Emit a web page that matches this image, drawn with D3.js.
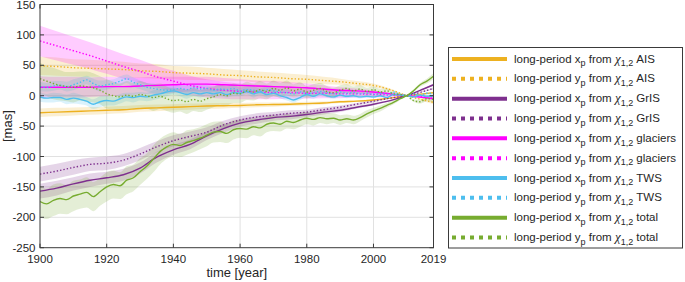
<!DOCTYPE html>
<meta charset="utf-8">
<style>
body { margin: 0; background: #fff; }
text { font-family: "Liberation Sans", Arial, sans-serif; fill: #262626; }
.grid line { stroke: #e1e1e1; stroke-width: 1; }
.frame { fill: none; stroke: #3a3a3a; stroke-width: 1; }
.tick-mark { stroke: #3a3a3a; stroke-width: 1; }
.band { stroke: none; fill-opacity: 0.2; }
.line { fill: none; stroke-width: 1.4; }
</style>
<svg width="685" height="282"></svg>
<script src="https://d3js.org/d3.v7.min.js"></script>
<script>
// grids: smooth series every 5 years, noisy series every 2 years
var yearsA = [1900, 1905, 1910, 1915, 1920, 1925, 1930, 1935, 1940, 1945, 1950, 1955,
  1960, 1965, 1970, 1975, 1980, 1985, 1990, 1995, 2000, 2005, 2010, 2015, 2018];
var yearsB = d3.range(1900, 2019, 2);

// AIS
var aisX = [-28, -27, -26, -25, -24, -23, -21, -20, -19, -18, -17, -16.5,
  -16, -15, -14.5, -14, -13, -12, -10, -9, -7, -4, 0, 3, 5];
var aisY = [49, 48, 46, 45, 44, 43, 41, 40, 38, 37, 36, 34,
  33, 31, 30, 28, 27, 25, 23, 20, 17, 10, 0, -7, -11];
var sigAisX = [7, 7, 6.5, 6.5, 6, 6, 5.5, 5.5, 5, 5, 4.5, 4.5, 4, 4, 3.5, 3, 3, 2.5, 2, 1.5, 1, 0.5, 0, 1, 2];
var sigAisY = [15, 15, 14, 14, 13, 13, 12, 12, 11, 11, 10, 10, 9, 9, 8, 8, 7, 6, 5, 4, 3, 2, 0, 2, 3];

// GrIS
var grisX = [-157, -152, -145, -139, -135, -130, -119, -101, -89, -80, -66, -54,
  -45, -40, -36, -34, -31, -27, -24, -19, -14, -8, 0, 11, 18];
var grisY = [-129, -124, -118, -113, -111, -106, -96, -84, -74, -67, -60, -48,
  -40, -35, -32, -29, -27, -23, -19, -14, -9, -4, 0, 7, 12];
var sigGrisX = [12, 12, 11, 11, 10, 10, 9, 9, 8, 8, 7, 7, 6, 6, 5, 5, 4, 4, 3, 2, 2, 1, 0, 1, 2];
var sigGrisY = [12, 12, 12, 11, 11, 10, 10, 9, 9, 8, 8, 7, 6, 6, 5, 5, 4, 4, 3, 2, 2, 1, 0, 1, 2];

// glaciers
var glacX = [14, 14, 14, 14, 15, 15, 16, 17, 18, 19, 19, 18,
  17, 16, 15, 14, 13, 11, 9, 8, 6, 3, 0, -3, -5];
var glacY = [90, 82, 74, 66, 57, 48, 40, 31, 24, 17, 12, 9,
  7, 6, 5, 5, 4, 4, 3, 3, 2, 1, 0, -1, -2];
var sigGlacX = [18, 17, 17, 16, 16, 15, 14, 14, 13, 12, 12, 11, 10, 9, 9, 8, 7, 6, 5, 4, 3, 2, 0, 1, 2];
var sigGlacY = [25, 24, 23, 22, 21, 20, 19, 18, 17, 16, 15, 14, 13, 12, 11, 10, 9, 8, 7, 6, 5, 3, 0, 1, 2];

// TWS
var twsX = [-2, -4, -3, -3, -6, -4, -6, -9, -14, -10,
  -8, -9, -5, -2, -3, -1, -2, 1, 3, 6,
  8, 5, 2, 5, 3, 5, 3, 5, 2, 5,
  4, 7, 3, 6, 2, 4, 0, -3, -7, -3,
  2, -1, 3, 0, -2, 1, -1, 0, -2, -1,
  -2, 0, -3, 2, 1, 0, -2, 1, -1, 0];
var twsY = [15, 14, 16, 17, 15, 18, 22, 26, 20, 16,
  18, 20, 24, 28, 22, 18, 14, 12, 10, 9,
  10, 12, 10, 13, 11, 12, 9, 11, 10, 12,
  8, 10, 9, 7, 10, 8, 6, 5, 3, 6,
  4, 5, 7, 5, 3, 6, 4, 5, 3, 4,
  2, 4, 2, 6, 2, 0, 3, 1, 4, 3];
var sigTws = [8, 7, 8, 7, 8, 9, 8, 7, 8, 9,
  8, 7, 8, 7, 8, 7, 7, 8, 7, 7,
  6, 6, 7, 6, 6, 5, 6, 6, 5, 6,
  5, 5, 6, 5, 5, 5, 4, 5, 4, 4,
  4, 4, 4, 3, 3, 3, 3, 3, 2.5, 2,
  2, 1.5, 1, 1, 0.5, 0, 1, 1, 1.5, 2];

// total
var totX = [-174, -178, -172, -169, -171, -165, -162, -159, -166, -158,
  -150, -146, -148, -139, -135, -125, -116, -104, -92, -84,
  -80, -82, -77, -74, -70, -65, -60, -59, -62, -56,
  -54, -55, -51, -53, -47, -45, -47, -42, -44, -40,
  -37, -39, -36, -38, -37, -40, -38, -40, -36, -30,
  -25, -21, -16, -11, -5, 0, 8, 18, 24, 32];
var totY = [28, 24, 20, 17, 15, 14, 16, 15, 13, 9,
  3, 0, -2, 1, -1, 2, 0, -3, -1, -5,
  -8, -7, -10, -6, -9, -5, -2, 2, 0, 4,
  3, 8, 6, 10, 7, 12, 9, 13, 8, 11,
  6, 9, 12, 7, 5, 9, 12, 8, 11, 7,
  10, 6, 8, 3, 2, 0, -8, -10, -5, -6];
var sigTot = [26, 25, 26, 25, 24, 25, 24, 25, 24, 23,
  24, 23, 22, 23, 22, 22, 21, 22, 21, 20,
  20, 19, 20, 19, 18, 18, 17, 17, 16, 16,
  15, 15, 14, 14, 13, 13, 12, 12, 11, 11,
  10, 10, 9, 9, 8, 8, 7, 7, 6, 6,
  5, 5, 4, 3, 2, 0, 2, 3, 4, 5];

var sources = ['AIS', 'GrIS', 'glaciers', 'TWS', 'total'];
var colors = ['#EDB120', '#7E2F8E', '#FF00FF', '#4DBEEE', '#77AC30'];

var xTicks = [1900, 1920, 1940, 1960, 1980, 2000, 2018];
var xTickLabels = ['1900', '1920', '1940', '1960', '1980', '2000', '2019'];
var yTicks = [150, 100, 50, 0, -50, -100, -150, -200, -250];

var series = [
  { src: 0, comp: 'x', years: yearsA, v: aisX, s: sigAisX },
  { src: 0, comp: 'y', years: yearsA, v: aisY, s: sigAisY },
  { src: 1, comp: 'x', years: yearsA, v: grisX, s: sigGrisX },
  { src: 1, comp: 'y', years: yearsA, v: grisY, s: sigGrisY },
  { src: 2, comp: 'x', years: yearsA, v: glacX, s: sigGlacX },
  { src: 2, comp: 'y', years: yearsA, v: glacY, s: sigGlacY },
  { src: 3, comp: 'x', years: yearsB, v: twsX, s: sigTws },
  { src: 3, comp: 'y', years: yearsB, v: twsY, s: sigTws },
  { src: 4, comp: 'x', years: yearsB, v: totX, s: sigTot },
  { src: 4, comp: 'y', years: yearsB, v: totY, s: sigTot }
];

var svg = d3.select('svg');
var plot = { left: 40, right: 433.5, top: 4.5, bottom: 247.7 };

var x = d3.scaleLinear().domain([1900, 2018]).range([plot.left, plot.right]);
var y = d3.scaleLinear().domain([-250, 150]).range([plot.bottom, plot.top]);

// grid
var grid = svg.append('g').attr('class', 'grid');
grid.selectAll('.gx').data(xTicks.slice(1, -1)).enter().append('line')
  .attr('x1', d => x(d)).attr('x2', d => x(d))
  .attr('y1', plot.top).attr('y2', plot.bottom);
grid.selectAll('.gy').data(yTicks.slice(1, -1)).enter().append('line')
  .attr('x1', plot.left).attr('x2', plot.right)
  .attr('y1', d => y(d)).attr('y2', d => y(d));

// helper to get point arrays
function pts(d) {
  return d.years.map(function (yr, i) { return { t: yr, v: d.v[i], s: d.s[i] }; });
}

var area = d3.area()
  .x(p => x(p.t)).y0(p => y(p.v - p.s)).y1(p => y(p.v + p.s))
  .curve(d3.curveMonotoneX);
var line = d3.line().x(p => x(p.t)).y(p => y(p.v)).curve(d3.curveMonotoneX);

svg.append('defs').append('clipPath').attr('id', 'clip')
  .append('rect').attr('x', plot.left).attr('y', plot.top)
  .attr('width', plot.right - plot.left).attr('height', plot.bottom - plot.top);

var g = svg.append('g').attr('clip-path', 'url(#clip)');
g.selectAll('.band').data(series).enter().append('path')
  .attr('class', 'band')
  .attr('fill', d => colors[d.src])
  .attr('d', d => area(pts(d)));

g.selectAll('.line').data(series).enter().append('path')
  .attr('class', 'line')
  .attr('stroke', d => colors[d.src])
  .attr('stroke-dasharray', d => d.comp === 'y' ? '1.4,2' : null)
  .attr('d', d => line(pts(d)));

// frame and inward ticks
svg.append('rect').attr('class', 'frame')
  .attr('x', plot.left).attr('y', plot.top)
  .attr('width', plot.right - plot.left).attr('height', plot.bottom - plot.top);

var tl = 4;
xTicks.forEach(function (t) {
  svg.append('line').attr('class', 'tick-mark')
    .attr('x1', x(t)).attr('x2', x(t)).attr('y1', plot.bottom).attr('y2', plot.bottom - tl);
  svg.append('line').attr('class', 'tick-mark')
    .attr('x1', x(t)).attr('x2', x(t)).attr('y1', plot.top).attr('y2', plot.top + tl);
});
yTicks.forEach(function (t) {
  svg.append('line').attr('class', 'tick-mark')
    .attr('x1', plot.left).attr('x2', plot.left + tl).attr('y1', y(t)).attr('y2', y(t));
  svg.append('line').attr('class', 'tick-mark')
    .attr('x1', plot.right).attr('x2', plot.right - tl).attr('y1', y(t)).attr('y2', y(t));
});

svg.selectAll('.xlab').data(xTicks).enter().append('text')
  .attr('x', d => x(d)).attr('y', 263)
  .attr('text-anchor', 'middle').style('font-size', '11.5px')
  .text((d, i) => xTickLabels[i]);
svg.selectAll('.ylab').data(yTicks).enter().append('text')
  .attr('x', 35.5).attr('y', d => y(d) + 4)
  .attr('text-anchor', 'end').style('font-size', '11.5px')
  .text(d => d);

svg.append('text').attr('x', (plot.left + plot.right) / 2).attr('y', 276.5)
  .attr('text-anchor', 'middle').style('font-size', '13px').text('time [year]');
svg.append('text').attr('transform', 'translate(11.5,' + ((plot.top + plot.bottom) / 2) + ') rotate(-90)')
  .attr('text-anchor', 'middle').style('font-size', '13px').text('[mas]');

// legend
var lg = svg.append('g');
lg.append('rect').attr('x', 448.5).attr('y', 47.5).attr('width', 234).attr('height', 200.5)
  .attr('fill', '#fff').attr('stroke', '#3a3a3a');

var rowY = d3.scaleLinear().domain([0, 9]).range([59, 237.5]);
series.forEach(function (d, i) {
  var ry = rowY(i);
  lg.append('line')
    .attr('x1', 452).attr('x2', 507).attr('y1', ry).attr('y2', ry)
    .attr('stroke', colors[d.src]).attr('stroke-width', 4)
    .attr('stroke-dasharray', d.comp === 'y' ? '4,5' : null);
  var t = lg.append('text').attr('x', 514).attr('y', ry + 3.5).style('font-size', '11.5px');
  t.append('tspan').text('long-period ' + d.comp);
  t.append('tspan').attr('dy', 3.8).style('font-size', '9px').text('p');
  t.append('tspan').attr('dy', -3.8).text(' from ');
  t.append('tspan').style('font-family', '"Liberation Serif", serif').style('font-style', 'italic')
    .style('font-size', '13px').text('\u03c7');
  t.append('tspan').attr('dy', 3.8).style('font-size', '9px').text('1,2');
  t.append('tspan').attr('dy', -3.8).text(' ' + sources[d.src]);
});
</script>
